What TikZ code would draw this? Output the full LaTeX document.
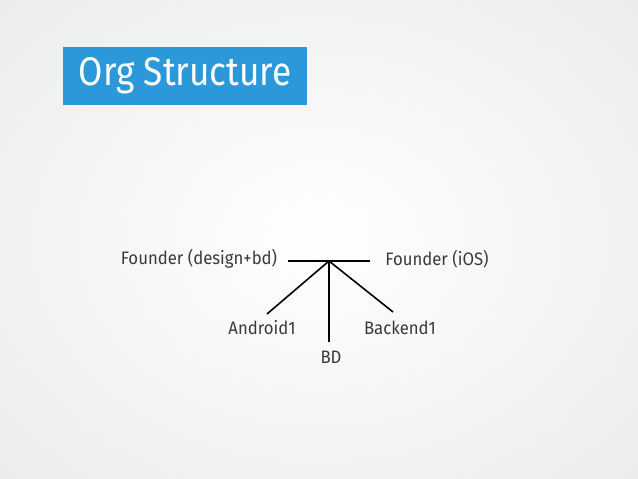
\documentclass[tikz,border=0pt]{standalone}
\usepackage{fontspec}
\setmainfont{Fira Sans}[FakeStretch=0.93]
\newfontfamily\titlefont{Fira Sans}[FakeStretch=0.88]
\definecolor{titleblue}{HTML}{2B98D9}
\definecolor{txtgray}{HTML}{3A3A3A}
\begin{document}
\begin{tikzpicture}[x=1pt,y=-1pt,
  lbl/.style={text=txtgray,font=\fontsize{18}{20}\selectfont,inner sep=0pt,anchor=center},
  conn/.style={draw=black,line width=1.6pt}]
\useasboundingbox (0,0) rectangle (638,479);
\shade[inner color=white,outer color=black!11] (-120,-100) rectangle (758,579);
\fill[white,opacity=0.35] (0,0) rectangle (638,479);
% title
\node[fill=titleblue,text=white,minimum width=244pt,minimum height=58pt,inner sep=0pt,anchor=north west,
  font=\titlefont\fontsize{40}{44}\selectfont] (title) at (63,47) {Org Structure};
% labels
\node[lbl] (f1) at (199,259) {Founder (design+bd)};
\node[lbl] (f2) at (437,259) {Founder (iOS)};
\node[lbl] (and) at (262,328) {Android1};
\node[lbl] (be) at (400,328) {Backend1};
\node[lbl] (bd) at (331,357) {BD};
% connectors
\coordinate (hl) at (288,261);
\coordinate (hr) at (370,261);
\coordinate (hub) at (329,261);
\coordinate (ae) at (267,314);
\coordinate (be2) at (393,312);
\coordinate (bde) at (329,342);
\draw[conn] (hl) -- (hr);
\draw[conn] (hub) -- (ae);
\draw[conn] (hub) -- (bde);
\draw[conn] (hub) -- (be2);
\end{tikzpicture}
\end{document}
